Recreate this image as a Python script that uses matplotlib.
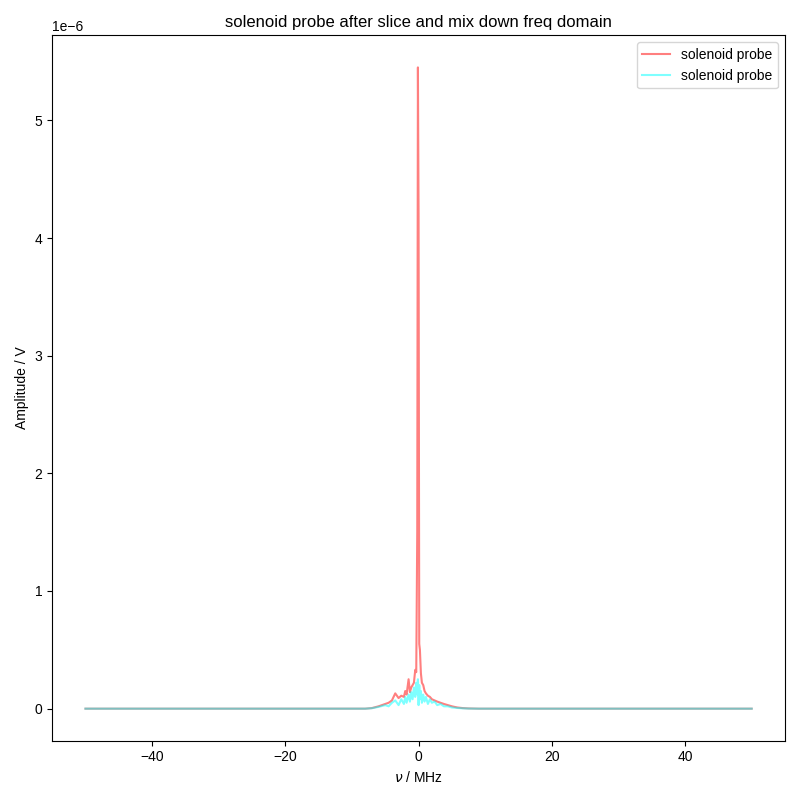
import matplotlib.pyplot as plt

plt.rcParams['font.family'] = ['Liberation Sans', 'DejaVu Sans']

# frequency (MHz) and amplitudes (V)
freq = [-50, -8, -7, -6, -5, -4.5, -4, -3.5, -3, -2.6, -2.2, -2.0, -1.8, -1.5, -1.3, -1.1, -0.9,
        -0.7, -0.5, -0.35, -0.2, -0.1, 0.0, 0.1, 0.2, 0.35, 0.5, 0.7, 0.9, 1.1, 1.4, 1.7,
        2.0, 2.4, 2.8, 3.3, 3.8, 4.4, 5.0, 5.8, 6.6, 7.5, 9, 50]
red = [0, 0, 0.005e-6, 0.02e-6, 0.04e-6, 0.05e-6, 0.07e-6, 0.13e-6, 0.09e-6, 0.11e-6, 0.10e-6,
       0.15e-6, 0.12e-6, 0.25e-6, 0.14e-6, 0.18e-6, 0.2e-6, 0.22e-6, 0.33e-6, 0.31e-6, 1.5e-6,
       5.45e-6, 4.2e-6, 0.55e-6, 0.5e-6, 0.3e-6, 0.22e-6, 0.2e-6, 0.15e-6, 0.13e-6, 0.11e-6,
       0.1e-6, 0.08e-6, 0.07e-6, 0.06e-6, 0.05e-6, 0.04e-6, 0.03e-6, 0.02e-6, 0.01e-6, 0.005e-6,
       0.002e-6, 0, 0]
cyan = [0, 0, 0.004e-6, 0.015e-6, 0.03e-6, 0.02e-6, 0.05e-6, 0.07e-6, 0.03e-6, 0.08e-6, 0.04e-6,
        0.1e-6, 0.05e-6, 0.12e-6, 0.06e-6, 0.14e-6, 0.08e-6, 0.18e-6, 0.1e-6, 0.22e-6, 0.12e-6,
        0.25e-6, 0.03e-6, 0.2e-6, 0.08e-6, 0.15e-6, 0.05e-6, 0.12e-6, 0.06e-6, 0.1e-6, 0.04e-6,
        0.08e-6, 0.05e-6, 0.06e-6, 0.03e-6, 0.04e-6, 0.02e-6, 0.02e-6, 0.01e-6, 0.006e-6, 0.003e-6,
        0.001e-6, 0, 0]

fig, ax = plt.subplots(figsize=(8, 8), dpi=100)
ax.plot(freq, red, color='red', alpha=0.5, label='solenoid probe', lw=1.5)
ax.plot(freq, cyan, color='cyan', alpha=0.5, label='solenoid probe', lw=1.5)
ax.set_xlabel(r'$\nu$ / MHz')
ax.set_ylabel('Amplitude / V')
ax.set_title('solenoid probe after slice and mix down freq domain')
ax.legend(loc='upper right')
plt.tight_layout()
plt.savefig('out.png')
